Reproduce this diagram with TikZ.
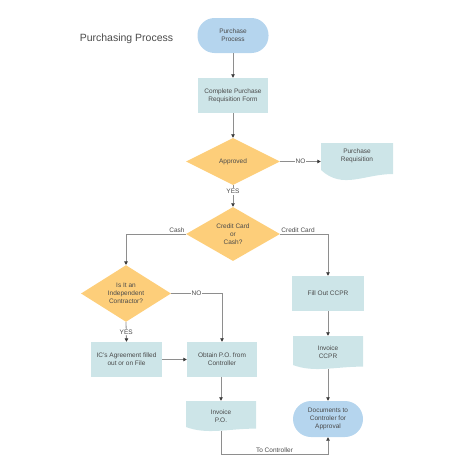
\documentclass[tikz,border=0pt]{standalone}
\usepackage{fontspec}
\setmainfont{Liberation Sans}
\usetikzlibrary{shapes.geometric,arrows.meta,calc}
\definecolor{termfill}{HTML}{B5D5EE}
\definecolor{boxfill}{HTML}{CDE5E8}
\definecolor{decfill}{HTML}{FDCE7A}
\definecolor{linecol}{HTML}{8E8E8E}
\definecolor{tipcol}{HTML}{3A3A3A}
\definecolor{txtcol}{HTML}{4A4A4A}
\newcommand\docpath[1]{%
  \fill[boxfill] (path picture bounding box.north west) -- (path picture bounding box.north east)
    -- ($(path picture bounding box.south east)+(0pt,0.6*#1)$)
    .. controls ($(path picture bounding box.south west)!0.6!(path picture bounding box.south east)+(0pt,0.6*#1)$)
    and ($(path picture bounding box.south west)!0.3!(path picture bounding box.south east)+(0pt,-#1)$)
    .. ($(path picture bounding box.south west)+(0pt,#1)$) -- cycle;}
\tikzset{
  base/.style={font=\fontsize{6.5}{8}\selectfont, text=txtcol, align=center, inner sep=0pt},
  term/.style={base, rectangle, rounded corners=17pt, fill=termfill},
  procbox/.style={base, rectangle, fill=boxfill},
  decision/.style={base, diamond, fill=decfill},
  docnode/.style={base, rectangle, path picture={\docpath{#1}}},
  conn/.style={draw=linecol, line width=0.8pt, -{Triangle[length=3.5pt,width=3.5pt,color=tipcol]}},
  lbl/.style={font=\fontsize{6.5}{8}\selectfont, text=txtcol, fill=white, inner sep=1pt},
  lblfree/.style={font=\fontsize{6.5}{8}\selectfont, text=txtcol, inner sep=1pt},
}
\begin{document}
\begin{tikzpicture}[x=1pt,y=-1pt]
\useasboundingbox (0,0) rectangle (474,474);
\node[font=\fontsize{10.5}{12}\selectfont, text=txtcol] (title) at (126.5,38.5) {Purchasing Process};
\node[term, minimum width=71pt, minimum height=35pt] (pp) at (233,35.5) {Purchase\\Process};
\node[procbox, minimum width=70pt, minimum height=35pt] (cpr) at (233,95.5) {Complete Purchase\\Requisition Form};
\node[decision, minimum width=94pt, minimum height=47pt] (ap) at (233,161.5) {Approved};
\node[docnode=10pt, minimum width=72pt, minimum height=37pt] (pr) at (357,161.5) {Purchase\\Requisition\\[5pt]};
\node[decision, minimum width=94pt, minimum height=48pt] (cc) at (233,234) {Credit Card\\or\\Cash?};
\node[decision, minimum width=90pt, minimum height=47pt] (ic) at (126,293.5) {Is It an\\Independent\\Contractor?};
\node[procbox, minimum width=71pt, minimum height=35pt] (ica) at (126.5,359.5) {IC's Agreement filled\\out or on File};
\node[procbox, minimum width=70pt, minimum height=35pt] (ob) at (222,359.5) {Obtain P.O. from\\Controller};
\node[docnode=4pt, minimum width=70pt, minimum height=30pt] (ipo) at (221,416) {Invoice\\P.O.};
\node[procbox, minimum width=72pt, minimum height=35pt] (fo) at (328,293.5) {Fill Out CCPR};
\node[docnode=4pt, minimum width=70pt, minimum height=33pt] (icc) at (328,352.5) {Invoice\\CCPR};
\node[term, minimum width=70pt, minimum height=36pt, rounded corners=18pt] (dc) at (328,419) {Documents to\\Controler for\\Approval};
\coordinate (low1) at ($(ipo.south)+(0pt,-23pt)$);
\coordinate (low2) at (low1 -| dc.south);

\draw[conn] (pp) -- (cpr);
\draw[conn] (cpr) -- (ap);
\draw[conn] (ap.east) -- node[lbl]{NO} (ap.east -| pr.west);
\draw[conn] (ap.south) -- node[lbl, pos=0.3]{YES} (cc.north);
\draw[conn] (cc.west) -| (ic.north);
\node[lblfree, anchor=south east] (lcash) at (cc.west) {Cash};
\draw[conn] (cc.east) -| (fo.north);
\node[lblfree, anchor=south west] (lcred) at (cc.east) {Credit Card};
\draw[conn] (ic.east) -- node[lbl]{NO} (ic.east -| ob.north) -- (ob.north);
\draw[conn] (ic.south) -- node[lbl]{YES} (ica.north);
\draw[conn] (ica) -- (ob);
\draw[conn] (ob.south -| ipo.north) -- (ipo.north);
\draw[conn] (fo) -- (icc);
\draw[conn] (icc.south) -- (dc.north);
\draw[conn] (ipo.south) -- (low1) -- node[lblfree, above]{To Controller} (low2) -- (dc.south);
\end{tikzpicture}
\end{document}
